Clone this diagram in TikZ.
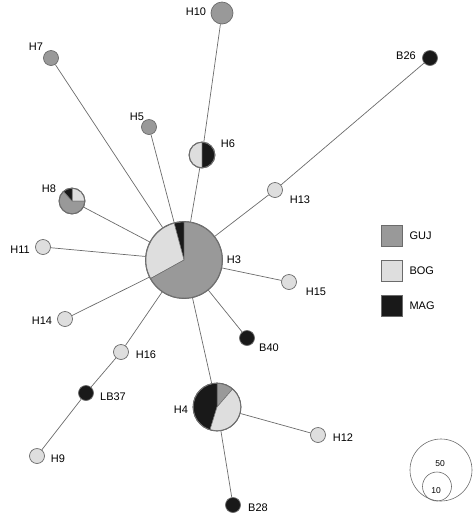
\documentclass[tikz,border=0pt]{standalone}
\usepackage{fontspec}
\setmainfont{Liberation Sans}
\usepackage{tikz}
\usetikzlibrary{positioning}
\usepackage{xcolor}

\definecolor{gujc}{gray}{0.60}
\definecolor{bogc}{gray}{0.87}
\definecolor{magc}{gray}{0.10}
\definecolor{linec}{gray}{0.42}

% slice of a haplotype pie: node, start angle, end angle, radius, colour
\newcommand{\pieslice}[5]{%
  \filldraw[#5, draw=linec, line width=0.5pt] (#1.center) -- ++(#2:#4)
    arc[start angle=#2, end angle=#3, radius=#4] -- cycle;}

\begin{document}
\begin{tikzpicture}[
  x=1pt, y=-1pt,
  hap/.style={draw=linec, circle, line width=0.7pt, inner sep=0pt, minimum size=15pt},
  guj/.style={hap, fill=gujc},
  bog/.style={hap, fill=bogc},
  mag/.style={hap, fill=magc},
  lab/.style={font=\fontsize{11}{13}\selectfont, inner sep=0pt},
  edge/.style={draw=linec, line width=0.7pt},
  rim/.style={draw=linec, line width=0.7pt},
  key/.style={draw=linec, line width=0.7pt, minimum size=21pt, inner sep=0pt}]

\useasboundingbox (0,0) rectangle (474,515);

% haplotypes
\node[hap, minimum size=77pt] (H3) at (184,260) {};
\node[hap, minimum size=48pt] (H4) at (217,407) {};
\node[hap, minimum size=26pt] (H8) at (72,201) {};
\node[hap, minimum size=26pt] (H6) at (202,155) {};
\node[guj, minimum size=22pt] (H10) at (222,13) {};
\node[guj] (H7) at (51,58) {};
\node[guj] (H5) at (149,127) {};
\node[mag] (B26) at (430,58) {};
\node[bog] (H13) at (275,190) {};
\node[bog] (H11) at (43,247) {};
\node[bog] (H14) at (65,319) {};
\node[bog] (H15) at (289,282) {};
\node[mag] (B40) at (247,338) {};
\node[bog] (H16) at (121,352) {};
\node[mag] (LB37) at (86,393) {};
\node[bog] (H9) at (37,456) {};
\node[bog] (H12) at (318,435) {};
\node[mag] (B28) at (233,505) {};

% links
\draw[edge] (H3) -- (H7);
\draw[edge] (H3) -- (H5);
\draw[edge] (H3) -- (H6);
\draw[edge] (H6) -- (H10);
\draw[edge] (H3) -- (H8);
\draw[edge] (H3) -- (H11);
\draw[edge] (H3) -- (H14);
\draw[edge] (H3) -- (H13);
\draw[edge] (H13) -- (B26);
\draw[edge] (H3) -- (H15);
\draw[edge] (H3) -- (B40);
\draw[edge] (H3) -- (H16);
\draw[edge] (H16) -- (LB37);
\draw[edge] (LB37) -- (H9);
\draw[edge] (H3) -- (H4);
\draw[edge] (H4) -- (H12);
\draw[edge] (H4) -- (B28);

% pies
\pieslice{H3}{90}{105}{38pt}{magc}
\pieslice{H3}{105}{209}{38pt}{bogc}
\pieslice{H3}{209}{450}{38pt}{gujc}
\pieslice{H4}{49}{90}{23.6pt}{gujc}
\pieslice{H4}{90}{253}{23.6pt}{magc}
\pieslice{H4}{253}{409}{23.6pt}{bogc}
\pieslice{H8}{0}{90}{12.6pt}{bogc}
\pieslice{H8}{90}{132}{12.6pt}{magc}
\pieslice{H8}{132}{360}{12.6pt}{gujc}
\pieslice{H6}{90}{270}{12.6pt}{bogc}
\pieslice{H6}{270}{450}{12.6pt}{magc}
\draw[rim] (H3.center) circle[radius=38.5pt];
\draw[rim] (H4.center) circle[radius=24pt];
\draw[rim] (H8.center) circle[radius=13pt];
\draw[rim] (H6.center) circle[radius=13pt];

% labels
\node[lab] (lH3) at (234,260) {H3};
\node[lab] (lH4) at (181,410) {H4};
\node[lab] (lH8) at (49,189) {H8};
\node[lab] (lH6) at (228,144) {H6};
\node[lab] (lH10) at (196,12) {H10};
\node[lab] (lH7) at (36,47) {H7};
\node[lab] (lH5) at (137,117) {H5};
\node[lab] (lB26) at (406,56) {B26};
\node[lab] (lH13) at (300,200) {H13};
\node[lab] (lH11) at (20,250) {H11};
\node[lab] (lH14) at (42,321) {H14};
\node[lab] (lH15) at (316,292) {H15};
\node[lab] (lB40) at (269,348) {B40};
\node[lab] (lH16) at (146,355) {H16};
\node[lab] (lLB37) at (113,397) {LB37};
\node[lab] (lH9) at (58,459) {H9};
\node[lab] (lH12) at (343,438) {H12};
\node[lab] (lB28) at (258,508) {B28};

% legend
\node[key, fill=gujc] (kGUJ) at (391.5,236) {};
\node[key, fill=bogc] (kBOG) at (391.5,271) {};
\node[key, fill=magc] (kMAG) at (391.5,305.5) {};
\node[lab, right=7pt of kGUJ] (tGUJ) {GUJ};
\node[lab, right=7pt of kBOG] (tBOG) {BOG};
\node[lab, right=7pt of kMAG] (tMAG) {MAG};

% size scale
\node[draw=linec, circle, line width=0.6pt, minimum size=62pt, inner sep=0pt] (s50) at (441,470) {};
\node[draw=linec, circle, line width=0.6pt, minimum size=29pt, inner sep=0pt] (s10) at (437,486.5) {};
\node[lab, font=\fontsize{8.5}{10}\selectfont] (t50) at (440,464) {50};
\node[lab, font=\fontsize{8.5}{10}\selectfont] (t10) at (436,491) {10};

\end{tikzpicture}
\end{document}
